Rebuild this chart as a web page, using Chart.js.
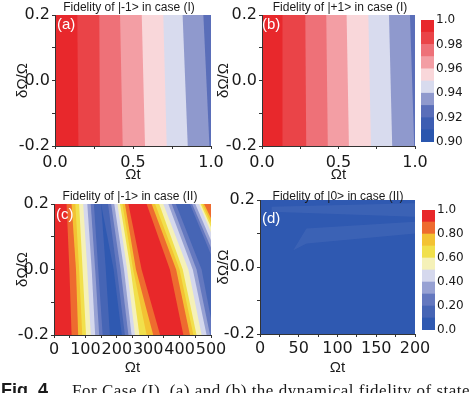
<!DOCTYPE html>
<html>
<head>
<meta charset="utf-8">
<script src="https://cdn.jsdelivr.net/npm/chart.js@4.4.0/dist/chart.umd.min.js"></script>
<style>
  html, body { margin: 0; padding: 0; background: #fff; }
  body { width: 474px; height: 393px; position: relative; overflow: hidden;
         font-family: "Liberation Sans", Arial, sans-serif; color: #1a1a1a; }
  canvas { position: absolute; }
  .ttl { position: absolute; font-size: 12px; line-height: 14px; white-space: nowrap; transform: translateX(-50%); }
  .lab { position: absolute; font-size: 15px; line-height: 17px; color: #fff; }
  .cap { position: absolute; left: 1px; top: 380px; white-space: nowrap;
         font: 17px/20px "Liberation Serif", serif; letter-spacing: 0.5px; }
  .cap .fig { font: bold 18px/20px "Liberation Sans", sans-serif; letter-spacing: 0; }
  .cap .txt { margin-left: 24px; }
</style>
</head>
<body>
<canvas id="chartA" width="240" height="190" style="left:0;top:0"></canvas>
<canvas id="chartB" width="230" height="190" style="left:210px;top:0"></canvas>
<canvas id="chartC" width="240" height="203" style="left:0;top:190px"></canvas>
<canvas id="chartD" width="230" height="203" style="left:210px;top:190px"></canvas>
<canvas id="barB" width="59" height="160" style="left:415px;top:0"></canvas>
<canvas id="barD" width="59" height="160" style="left:415px;top:190px"></canvas>

<div class="ttl" style="left:129px;top:0">Fidelity of |-1&gt; in case (I)</div>
<div class="ttl" style="left:340px;top:0">Fidelity of |+1&gt; in case (I)</div>
<div class="ttl" style="left:130px;top:189px">Fidelity of |-1&gt; in case (II)</div>
<div class="ttl" style="left:338px;top:189px">Fidelity of |0&gt; in case (II)</div>

<div class="lab" style="left:57px;top:15px">(a)</div>
<div class="lab" style="left:262px;top:15px">(b)</div>
<div class="lab" style="left:56px;top:205px">(c)</div>
<div class="lab" style="left:262px;top:209px">(d)</div>

<div class="cap"><span class="fig">Fig. 4</span><span class="txt">For Case (I), (a) and (b) the dynamical fidelity of state</span></div>

<script>
// colour levels (index = contour level, 0 = lowest)
const redBlue = ["#2a56ae", "#3d5db2", "#5a6eb9", "#8f99cd", "#d8dbee",
                 "#f9d7da", "#f39ea4", "#ee7178", "#ea4448", "#e8282c"];
const jet = ["#2f59b1", "#4665b5", "#6478bf", "#97a1d3", "#d5d8ed",
             "#f5f1b8", "#f1e04c", "#f3c233", "#ee6b2f", "#e8282a"];

const ink = "#1a1a1a";

// y rows used for the contour boundaries
const yRows3 = [0.2, 0.0, -0.2];
const yRows2 = [0.2, -0.2];

// (a) fidelity of |-1> case (I): boundary positions (Ωt) at top / bottom
const aTop = [0.143, 0.284, 0.417, 0.556, 0.694, 0.818, 0.951];
const aBottom = [0.150, 0.288, 0.434, 0.577, 0.716, 0.851, 0.990];
const aBands = [9, 8, 7, 6, 5, 4, 3, 2];

// (b) fidelity of |+1> case (I)
const bTop = [0.134, 0.283, 0.420, 0.553, 0.695, 0.830, 0.967];
const bBottom = [0.134, 0.289, 0.430, 0.568, 0.712, 0.851, 0.995];
const bBands = [9, 8, 7, 6, 5, 4, 3, 2];

// (c) fidelity of |-1> case (II): boundaries at δΩ/Ω = 0.2, 0, -0.2
const cTop = [40, 56, 68, 80, 93, 106, 117, 127, 150, 150, 172, 182, 192, 202, 210, 218, 226, 237,
              295, 311, 322, 335, 348, 364, 375, 388, 433, 440, 450, 462, 467, 472, 478];
const cMid = [49, 70, 80, 91, 106, 120, 131, 141, 165, 190, 200, 212, 223, 233, 244, 252, 261, 279,
              369, 389, 400, 410, 428, 442, 454, 470, 520, 530, 540, 550, 560, 570, 580];
const cBottom = [56, 77, 90, 102, 117, 131, 144, 155, 178, 216, 226, 237, 247, 258, 272, 295, 316, 338,
                 412, 433, 444, 454, 470, 486, 497, 510, 540, 550, 560, 570, 580, 590, 600];
const cBands = [9, 8, 7, 6, 5, 4, 3, 2, 1, 0, 1, 2, 3, 4, 5, 6, 7, 8,
                9, 8, 7, 6, 5, 4, 3, 2, 1, 2, 3, 4, 5, 6, 7, 8];

// (d) fidelity of |0> case (II): almost flat, two faint lighter streaks
const dStripe1X = [15, 200, 200, 15];
const dStripe1Y = [0.18, 0.19, 0.15, 0.165];
const dStripe2X = [43, 60, 200, 200, 60];
const dStripe2Y = [0.05, 0.115, 0.135, 0.10, 0.07];

// axis ticks
const yTickVals = [-0.2, 0.0, 0.2];
const yTickLabels = ["-0.2", "0.0", "0.2"];
const abTickVals = [0, 0.5, 1.0];
const abTickLabels = ["0.0", "0.5", "1.0"];
const cTickVals = [0, 100, 200, 300, 400, 500];
const cTickLabels = ["0", "100", "200", "300", "400", "500"];
const dTickVals = [0, 50, 100, 150, 200];
const dTickLabels = ["0", "50", "100", "150", "200"];

// colour bars
const bLevels = [0.90, 0.91, 0.92, 0.93, 0.94, 0.95, 0.96, 0.97, 0.98, 0.99, 1.00];
const bBarTickVals = [0.90, 0.92, 0.94, 0.96, 0.98, 1.0];
const bBarTickLabels = ["0.90", "0.92", "0.94", "0.96", "0.98", "1.0"];
const dLevels = [0.0, 0.1, 0.2, 0.3, 0.4, 0.5, 0.6, 0.7, 0.8, 0.9, 1.0];
const dBarTickVals = [0.0, 0.2, 0.4, 0.6, 0.8, 1.0];
const dBarTickLabels = ["0.0", "0.20", "0.40", "0.60", "0.80", "1.0"];

function pickLabel(vals, labels) {
  return (v) => {
    const i = vals.findIndex(t => Math.abs(t - v) < 1e-6);
    return i < 0 ? "" : labels[i];
  };
}

function shape(pts, color) {
  return { data: pts, backgroundColor: color, borderWidth: 0, pointRadius: 0, fill: "shape", tension: 0 };
}

// painter style: each boundary fills everything left of it with the band colour on its left,
// smaller (left) polygons end up on top because dataset 0 is drawn last
function bandSets(rows, yRows, bands, colors, xLo, xHi) {
  const sets = [];
  const n = bands.length - 1;
  for (let k = 0; k < n; k++) {
    const pts = [{ x: xLo, y: yRows[0] }];
    rows.forEach((xs, i) => pts.push({ x: xs[k], y: yRows[i] }));
    pts.push({ x: xLo, y: yRows[yRows.length - 1] });
    sets.push(shape(pts, colors[bands[k]]));
  }
  const top = yRows[0], bot = yRows[yRows.length - 1];
  sets.push(shape([{ x: xLo, y: top }, { x: xHi, y: top }, { x: xHi, y: bot }, { x: xLo, y: bot }],
                  colors[bands[n]]));
  return sets;
}

const tickFont = { family: "DejaVu Sans", size: 16 };
const titleFont = { family: "Liberation Sans", size: 15 };

function panel(id, o) {
  return new Chart(document.getElementById(id), {
    type: "line",
    data: { datasets: o.datasets },
    options: {
      responsive: false,
      animation: false,
      events: [],
      layout: { padding: o.pad },
      plugins: { legend: { display: false }, tooltip: { enabled: false } },
      scales: {
        x: {
          type: "linear", min: o.xMin, max: o.xMax,
          ticks: { stepSize: o.xStep, autoSkip: false, maxRotation: 0, padding: o.tickPad,
                   font: tickFont, color: ink, callback: pickLabel(o.xVals, o.xLabels) },
          grid: { drawOnChartArea: false, drawTicks: true, tickLength: 3, color: "#333" },
          border: { display: true, color: "#333", width: 1, z: 1 },
          title: { display: true, text: "Ωt", font: titleFont, color: ink, padding: { top: 0, bottom: o.xTitlePad } },
          afterFit: s => { s.height = o.xH; s.paddingLeft = 0; s.paddingRight = 0; }
        },
        y: {
          type: "linear", min: -0.2, max: 0.2,
          ticks: { stepSize: 0.1, autoSkip: false, padding: 2, font: tickFont, color: ink,
                   callback: pickLabel(yTickVals, yTickLabels) },
          grid: { drawOnChartArea: false, drawTicks: true, tickLength: 3, color: "#333" },
          border: { display: true, color: "#333", width: 1, z: 1 },
          title: { display: true, text: "δΩ/Ω", font: titleFont, color: ink, padding: { top: o.yTitlePad, bottom: 0 } },
          afterFit: s => { s.width = o.yW; s.paddingTop = 0; s.paddingBottom = 0; }
        }
      }
    }
  });
}

function colorbar(id, levels, colors, tVals, tLabels, step, o) {
  const datasets = colors.map((c, i) => ({
    data: [[levels[i], levels[i + 1]]],
    backgroundColor: c, borderWidth: 0, barPercentage: 1, categoryPercentage: 1, grouped: false
  }));
  return new Chart(document.getElementById(id), {
    type: "bar",
    data: { labels: [""], datasets },
    options: {
      responsive: false,
      animation: false,
      events: [],
      layout: { padding: o.pad },
      plugins: { legend: { display: false }, tooltip: { enabled: false } },
      scales: {
        x: { display: false },
        y: {
          position: "right", min: levels[0], max: levels[levels.length - 1],
          ticks: { stepSize: step, autoSkip: false, padding: 2, color: ink,
                   font: { family: "DejaVu Sans", size: 12 }, callback: pickLabel(tVals, tLabels) },
          grid: { display: false, drawTicks: false },
          border: { display: false },
          afterFit: s => { s.width = o.w; s.paddingTop = 0; s.paddingBottom = 0; }
        }
      }
    }
  });
}

panel("chartA", {
  datasets: bandSets([aTop, aBottom], yRows2, aBands, redBlue, -0.1, 1.1),
  pad: { top: 15, right: 29, left: 0, bottom: 0 }, yW: 55, xH: 44,
  xMin: 0, xMax: 1, xStep: 0.25, xVals: abTickVals, xLabels: abTickLabels,
  tickPad: 4, xTitlePad: 6, yTitlePad: 14
});

panel("chartB", {
  datasets: bandSets([bTop, bBottom], yRows2, bBands, redBlue, -0.1, 1.1),
  pad: { top: 15, right: 25, left: 0, bottom: 0 }, yW: 52, xH: 44,
  xMin: 0, xMax: 1, xStep: 0.25, xVals: abTickVals, xLabels: abTickLabels,
  tickPad: 4, xTitlePad: 6, yTitlePad: 5
});

panel("chartC", {
  datasets: bandSets([cTop, cMid, cBottom], yRows3, cBands, jet, -20, 620),
  pad: { top: 14, right: 29, left: 0, bottom: 0 }, yW: 54, xH: 58,
  xMin: 0, xMax: 500, xStep: 50, xVals: cTickVals, xLabels: cTickLabels,
  tickPad: 2, xTitlePad: 16, yTitlePad: 14
});

const lighter = "rgba(90, 118, 192, 0.3)";
panel("chartD", {
  datasets: [
    shape(dStripe1X.map((x, i) => ({ x, y: dStripe1Y[i] })), lighter),
    shape(dStripe2X.map((x, i) => ({ x, y: dStripe2Y[i] })), lighter),
    shape([{ x: -10, y: 0.2 }, { x: 210, y: 0.2 }, { x: 210, y: -0.2 }, { x: -10, y: -0.2 }], jet[0])
  ],
  pad: { top: 10, right: 25, left: 0, bottom: 0 }, yW: 50, xH: 59,
  xMin: 0, xMax: 200, xStep: 25, xVals: dTickVals, xLabels: dTickLabels,
  tickPad: 2, xTitlePad: 16, yTitlePad: 5
});

colorbar("barB", bLevels, redBlue, bBarTickVals, bBarTickLabels, 0.02,
         { pad: { left: 6, top: 20, right: 0, bottom: 18 }, w: 40 });
colorbar("barD", dLevels, jet, dBarTickVals, dBarTickLabels, 0.2,
         { pad: { left: 7, top: 20, right: 0, bottom: 20 }, w: 39 });
</script>
</body>
</html>
